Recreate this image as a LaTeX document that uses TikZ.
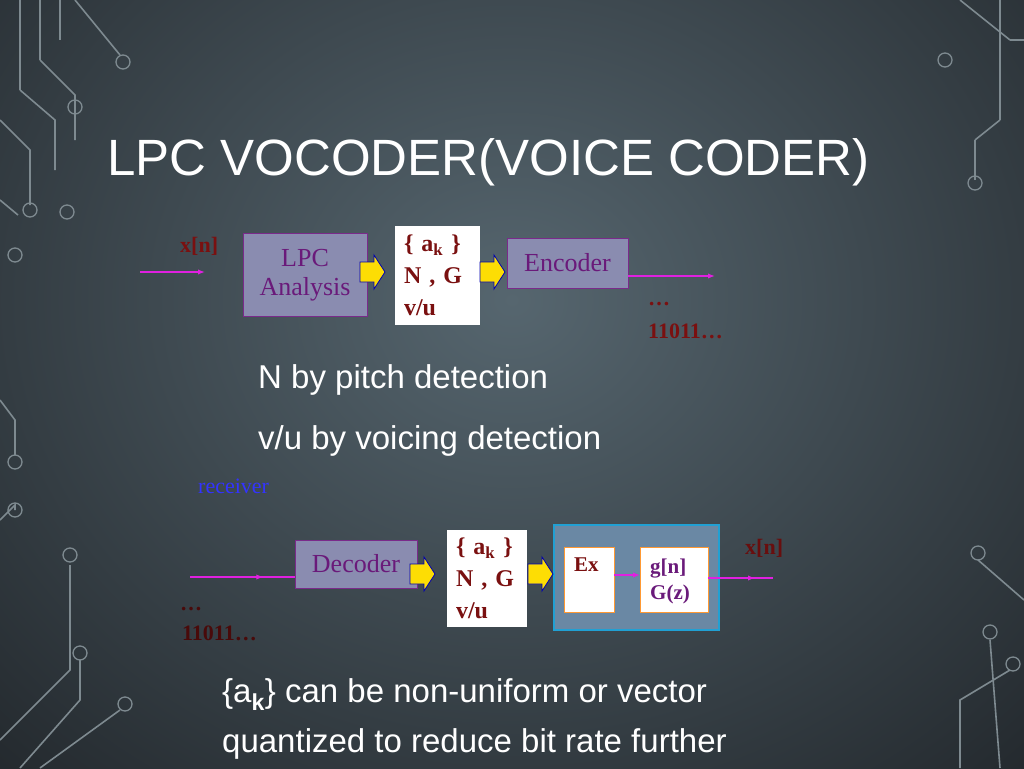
\documentclass[tikz,border=0pt]{standalone}
\usepackage{fontspec}
\setmainfont{Liberation Serif}
\setsansfont{Liberation Sans}
\usetikzlibrary{arrows.meta,calc}
\definecolor{boxfill}{HTML}{8A8CB0}
\definecolor{boxline}{HTML}{7A2A8A}
\definecolor{boxtext}{HTML}{6A1A7A}
\definecolor{darkred}{HTML}{7A1010}
\definecolor{sig}{HTML}{E020E0}
\definecolor{trace}{HTML}{7E8A90}
\definecolor{bgin}{HTML}{56666F}
\definecolor{bgout}{HTML}{1C2024}
\definecolor{synthfill}{HTML}{6A88A4}
\tikzset{
  block/.style={draw=boxline,fill=boxfill,text=boxtext,font=\fontsize{26}{29}\selectfont,align=center,inner sep=0pt},
  parbox/.style={fill=white,text=darkred,font=\bfseries\fontsize{24}{32}\selectfont,align=left,inner sep=0pt,text width=70pt},
  fat/.style={draw=blue!70!black,fill=yellow!80!orange,line width=0.8pt},
  sigline/.style={draw=sig,line width=1.2pt},
  note/.style={text=white,font=\sffamily\fontsize{33}{38}\selectfont,anchor=base west,inner sep=0pt},
  bits/.style={text=darkred,font=\bfseries\fontsize{22}{24}\selectfont,anchor=base west,inner sep=0pt},
  tr/.style={draw=trace,line width=1.6pt}
}
% block arrow: centre x, centre y
\newcommand\fatarrow[2]{\draw[fat] (#1-12,#2-10) -- (#1+2,#2-10) -- (#1+2,#2-17) -- (#1+13,#2) -- (#1+2,#2+17) -- (#1+2,#2+10) -- (#1-12,#2+10) -- cycle;}
\begin{document}
\begin{tikzpicture}[x=1pt,y=-1pt]
\useasboundingbox (0,0) rectangle (1024,768);
\shade[inner color=bgin, outer color=bgout] (-350,-450) rectangle (1374,1050);
\clip (0,0) rectangle (1024,768);
% circuit traces
\foreach \a/\b/\c/\d in {20/0/20/90,40/0/40/60,60/0/60/40,75/0/120/55,0/200/18/215,960/0/1010/40,1000/0/1000/120,975/140/975/180}
  \draw[tr] (\a,\b) -- (\c,\d);
\draw[tr] (20,90) -- (55,120) -- (55,170);
\draw[tr] (40,60) -- (75,95) -- (75,140);
\draw[tr] (0,120) -- (30,150) -- (30,205);
\draw[tr] (1010,40) -- (1024,40);
\draw[tr] (1000,120) -- (975,140);
\draw[tr] (0,400) -- (15,420) -- (15,455);
\draw[tr] (0,520) -- (15,505) -- (15,510);
\draw[tr] (0,740) -- (70,670) -- (70,565);
\draw[tr] (20,768) -- (80,700) -- (80,660);
\draw[tr] (40,768) -- (120,710);
\draw[tr] (1024,600) -- (978,560);
\draw[tr] (1000,768) -- (990,640);
\draw[tr] (960,768) -- (960,700) -- (1010,670);
\foreach \p in {(123,62),(75,107),(67,212),(15,255),(30,210),(15,462),(15,510),(70,555),(80,653),(125,704),(945,60),(975,183),(978,553),(990,632),(1013,664)}
  \draw[tr,line width=1.3pt] \p circle (7);
% title
\node[note,font=\sffamily\fontsize{51}{54}\selectfont] (title) at (107,175) {LPC VOCODER(VOICE CODER)};
% transmitter
\node[block,minimum width=124pt,minimum height=83pt] (lpc) at (305,275) {LPC\\Analysis};
\node[parbox,minimum height=99pt,text width=85pt] (tpar) at (437.5,275.5) {\hspace*{9pt}\{ a\textsubscript{k} \}\\\hspace*{9pt}N , G\\\hspace*{9pt}v/u};
\node[block,minimum width=121pt,minimum height=50pt] (enc) at (567.5,263) {Encoder};
\fatarrow{372}{272}
\fatarrow{492}{272}
\coordinate (tin) at (140,272);
\coordinate (tinend) at (205,272);
\coordinate (tout) at (715,276);
\draw[sigline,-{Latex[length=7pt]}] (tin) -- (tinend);
\draw[sigline,-{Latex[length=7pt]}] (enc.east |- tout) -- (tout);
\node[bits] (txn) at (180,252) {x[n]};
\node[bits] (tdots) at (648,305) {…};
\node[bits] (tbits) at (648,338) {11011…};
\node[note] (n1) at (258,388) {N by pitch detection};
\node[note] (n2) at (258,449) {v/u by voicing detection};
\node[text=blue!80!white,font=\fontsize{22}{24}\selectfont,anchor=base west,inner sep=0pt] (recv) at (198,493) {receiver};
% receiver
\node[block,minimum width=122pt,minimum height=48pt] (dec) at (356,564) {Decoder};
\node[parbox,minimum height=97pt,text width=80pt] (rpar) at (487,578.5) {\hspace*{9pt}\{ a\textsubscript{k} \}\\\hspace*{9pt}N , G\\\hspace*{9pt}v/u};
\node[draw=cyan!70!teal,line width=1.5pt,fill=synthfill,minimum width=165pt,minimum height=105pt,inner sep=0pt] (synth) at (636.5,577.5) {};
\node[draw=orange!80,fill=white,minimum width=50pt,minimum height=65pt,inner sep=0pt,anchor=north west] (ex) at (564,547) {};
\node[text=darkred,font=\bfseries\fontsize{21}{23}\selectfont,anchor=north west,inner sep=0pt] (exlab) at (574,558) {Ex};
\node[draw=orange!80,fill=white,minimum width=68pt,minimum height=65pt,inner sep=0pt,anchor=north west] (g) at (640,547) {};
\node[text=boxtext,font=\bfseries\fontsize{21}{26}\selectfont,anchor=north west,inner sep=0pt,align=left] (glab) at (650,559) {g[n]\\G(z)};
\fatarrow{422}{574}
\fatarrow{540}{574}
\coordinate (rin) at (190,577);
\coordinate (rout) at (773,578);
\coordinate (gin) at (g.west |- 0,575);
\draw[sigline] (rin) -- (dec.west |- rin);
\draw[sigline,-{Latex[length=7pt]}] (rin) -- ($(rin)!0.7!(dec.west |- rin)$);
\draw[sigline,-{Latex[length=7pt]}] (ex.east |- gin) -- (gin);
\draw[sigline] (g.east |- rout) -- (rout);
\draw[sigline,-{Latex[length=7pt]}] (g.east |- rout) -- (755,578);
\node[bits,text=darkred!85!black] (rxn) at (745,554) {x[n]};
\node[bits,text=darkred!60!black] (rdots) at (180,610) {…};
\node[bits,text=darkred!60!black] (rbits) at (182,640) {11011…};
\node[note] (n3) at (222,702) {\{a\textsubscript{\textbf{k}}\} can be non-uniform or vector};
\node[note] (n4) at (222,752) {quantized to reduce bit rate further};
\end{tikzpicture}
\end{document}
